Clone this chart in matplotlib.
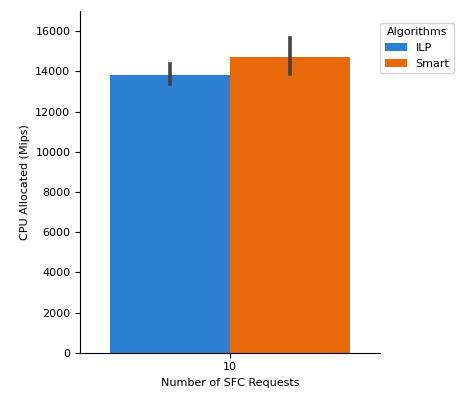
import matplotlib.pyplot as plt
import numpy as np

algorithms = ["ILP", "Smart"]
requests = ["10"]
cpu_mean = [13800, 14700]
cpu_low = [13350, 13850]
cpu_high = [14350, 15650]
colors = ["#2d7fd3", "#e8690a"]

fig = plt.figure(figsize=(4.74, 3.95), dpi=100)
ax = fig.add_axes([0.169, 0.107, 0.633, 0.865])

x = np.arange(len(requests))
w = 0.4
for i, name in enumerate(algorithms):
    pos = x - 0.2 + i * w
    ax.bar(pos, cpu_mean[i], width=w, color=colors[i], label=name)
    ax.plot([pos[0], pos[0]], [cpu_low[i], cpu_high[i]], color="#424242", lw=2.6)

ax.set_xticks(x)
ax.set_xticklabels(requests)
ax.set_xlim(-0.5, 0.5)
ax.set_ylim(0, 17000)
ax.set_yticks(np.arange(0, 16001, 2000))
ax.tick_params(labelsize=8)
ax.set_xlabel("Number of SFC Requests", fontsize=8)
ax.set_ylabel("CPU Allocated (Mips)", fontsize=8)
ax.spines["top"].set_visible(False)
ax.spines["right"].set_visible(False)
ax.legend(title="Algorithms", loc="upper left", bbox_to_anchor=(1.0, 0.965),
          borderaxespad=0.0, fontsize=8, title_fontsize=8)

fig.savefig("out.png", dpi=100)
